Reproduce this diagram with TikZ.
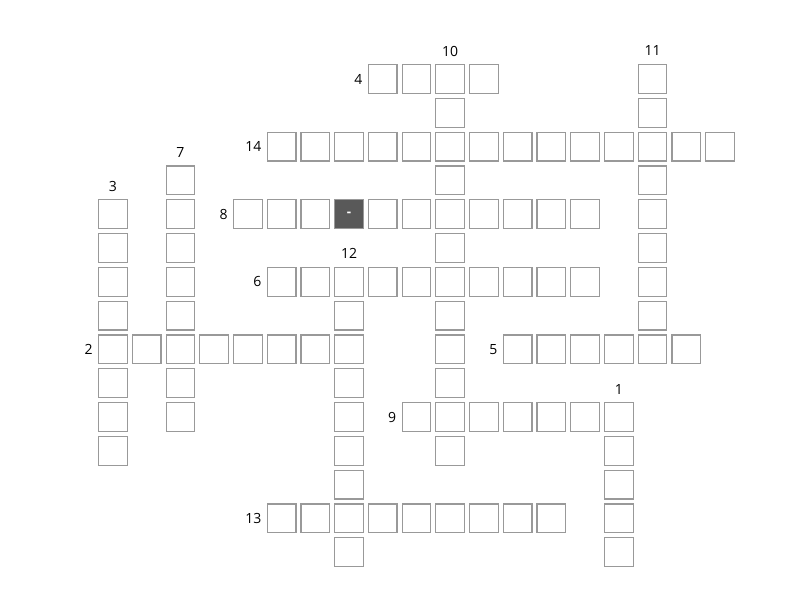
\documentclass[tikz,border=0pt]{standalone}
\usepackage{fontspec}
\setmainfont{Open Sans}
\begin{document}
\begin{tikzpicture}[x=0.75pt,y=-0.75pt,
  cellbox/.style={draw=black!40,fill=white,line width=0.9pt,minimum size=21.5pt,inner sep=0pt,outer sep=0pt},
  darkbox/.style={cellbox,fill=black!65,text=white},
  numlbl/.style={font=\fontsize{10.5}{12}\selectfont,inner sep=0pt}]
\useasboundingbox (0,0) rectangle (800,600);
\newcommand{\cx}[1]{113+33.72*#1}
\newcommand{\ry}[1]{79+33.8*#1}
\foreach \r/\a/\b in {0/8/11, 2/5/18, 4/4/14, 6/5/14, 8/0/7, 8/12/17, 10/9/15, 13/5/13}
  \foreach \c in {\a,...,\b}
    \node[cellbox] (h-\r-\c) at ({\cx{\c}},{\ry{\r}}) {};
\foreach \c/\a/\b in {10/0/11, 16/0/7, 2/3/10, 0/4/11, 7/6/14, 15/10/14}
  \foreach \r in {\a,...,\b}
    \node[cellbox] (v-\r-\c) at ({\cx{\c}},{\ry{\r}}) {};
\node[darkbox] (dash) at ({\cx{7}},{\ry{4}}) {\bfseries -};
\foreach \n/\r/\c in {4/0/8, 14/2/5, 8/4/4, 6/6/5, 2/8/0, 5/8/12, 9/10/9, 13/13/5}
  \node[numlbl,anchor=east] (l\n) at ({\cx{\c}-20},{\ry{\r}}) {\n};
\foreach \n/\r/\c in {10/0/10, 11/0/16, 7/3/2, 3/4/0, 12/6/7, 1/10/15}
  \node[numlbl] (t\n) at ({\cx{\c}},{\ry{\r}-28}) {\n};
\end{tikzpicture}
\end{document}
